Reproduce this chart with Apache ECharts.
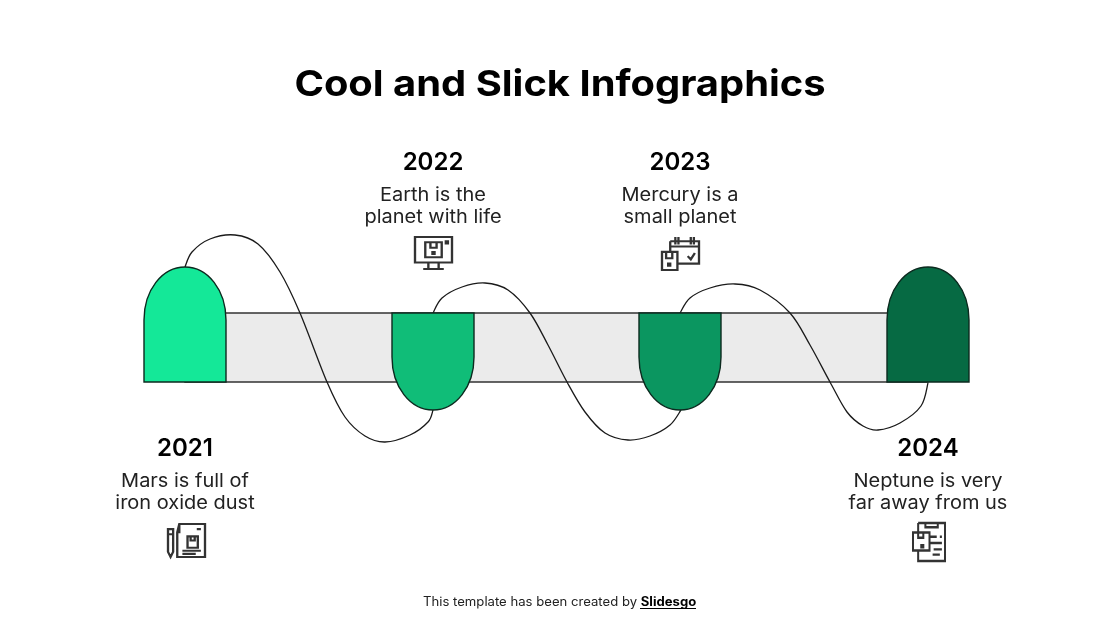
<!DOCTYPE html>
<html>
<head>
<meta charset="utf-8">
<style>
html, body { margin: 0; padding: 0; background: #fff; }
#main { width: 1119px; height: 629px; }
</style>
<script src="https://cdn.jsdelivr.net/npm/echarts@6/dist/echarts.min.js"></script>
</head>
<body>
<div id="main"></div>
<script>
var titleText = 'Cool and Slick Infographics';
var years = ['2021', '2022', '2023', '2024'];
var notes = [
    ['Mars is full of', 'iron oxide dust'],
    ['Earth is the', 'planet with life'],
    ['Mercury is a', 'small planet'],
    ['Neptune is very', 'far away from us']
];
var tabColors = ['#14e898', '#10bd78', '#0b9660', '#066a43'];

// centre of each tab on the band, and the side it grows out to (-1 up, 1 down)
var tabCentres = [185, 433, 680, 928];
var tabSides = [-1, 1, 1, -1];
var tabTips = [267, 410, 410, 267];
var bandFrom = 185, bandTo = 928, bandTop = 313, bandBottom = 382;

// the thin wavy lines
var curve1 = [[185,267],[192,252],[210,239],[235,235],[258,244],[280,272],[300,313],[327,382],[345,417],[365,436],[385,442],[410,435],[428,422],[433,410]];
var curve2 = [[433,313],[442,298],[462,287],[485,283],[508,290],[530,313],[548,345],[567,382],[585,412],[605,433],[628,440],[650,436],[670,425],[681,410]];
var curve3 = [[680,313],[690,298],[710,288],[735,284],[760,290],[790,313],[810,345],[830,382],[847,412],[863,426],[878,430],[900,423],[921,406],[928,383]];
var curves = [curve1, curve2, curve3];

var iconCentres = [[186.5,540.5],[433.5,253],[680.5,253.5],[929,542]];
var iconMonitor = 'path://M1 1H37V25H1ZM11 6H27V20H11ZM16 6V11H22V6M14 25V31M24 25V31M9 31H29M31 5H33V7H31ZM18 15H20V17H18Z';
var iconCalendar = 'path://M9 5H37V26H16M9 5V15M9 10H37M14 1V8M17 1V8M29 1V8M32 1V8M1 15H16V32H1ZM5 15V21H11V15M26 19L29 22L33 16M26 26H33M7 26H9V28H7Z';
var iconPaper = 'path://M1 6H6V28L3.5 33L1 28ZM1 11H6M12 1H37V33H10V9ZM12 1V9H10M20 13H30V24H20ZM23 13V17H27V13M15 27H33M15 30H28M29 6H33';
var iconPhone = 'path://M6 1H32V37H6V27M6 1V10M13 1V5H25V1M1 10H17V27H1ZM6 10V15H11V10M17 14H24M27 14H29M17 20H29M21 26H29M20 31H27M9 22H11V24H9Z';
var icons = [iconPaper, iconMonitor, iconCalendar, iconPhone];
var iconSizes = [[37,33],[37,32],[37,33],[32,38]];

var labelFont = 'Inter, "Noto Sans", sans-serif';
var yearY = [448.5, 163, 163, 448.5];
var noteY = [481, 195, 195, 481];
var textX = [185, 433, 680, 928];

var myChart = echarts.init(document.getElementById('main'));

// smooth path through the read points
function renderCurve(params, api) {
    var pts = curves[api.value(0)].map(function (p) { return api.coord(p); });
    var d = 'M' + pts[0];
    for (var i = 0; i < pts.length - 1; i++) {
        var p0 = pts[Math.max(i - 1, 0)], p1 = pts[i], p2 = pts[i + 1], p3 = pts[Math.min(i + 2, pts.length - 1)];
        d += 'C' + (p1[0] + (p2[0] - p0[0]) / 6) + ',' + (p1[1] + (p2[1] - p0[1]) / 6) +
            ' ' + (p2[0] - (p3[0] - p1[0]) / 6) + ',' + (p2[1] - (p3[1] - p1[1]) / 6) +
            ' ' + p2[0] + ',' + p2[1];
    }
    return {
        type: 'path',
        shape: { pathData: d },
        style: { fill: 'none', stroke: '#1a1a1a', lineWidth: 1.3 }
    };
}

function renderBand(params, api) {
    var a = api.coord([bandFrom, bandTop]);
    var b = api.coord([bandTo, bandBottom]);
    return {
        type: 'rect',
        shape: { x: a[0], y: a[1], width: b[0] - a[0], height: b[1] - a[1] },
        style: { fill: '#ebebeb', stroke: '#333', lineWidth: 1.4 }
    };
}

// a tab is a rectangle on the band with half an ellipse on its far side
function renderTab(params, api) {
    var i = params.dataIndex;
    var cx = api.value(0), tip = api.value(1), side = tabSides[i];
    var base = side < 0 ? bandBottom : bandTop;
    var shoulder = tip - side * 53;
    var k = 0.56;
    var pts = [
        [cx - 41, base], [cx - 41, shoulder],
        [cx - 41, shoulder + side * 53 * k], [cx - 41 * k, tip], [cx, tip],
        [cx + 41 * k, tip], [cx + 41, shoulder + side * 53 * k], [cx + 41, shoulder],
        [cx + 41, base]
    ].map(function (p) { return api.coord(p); });
    var d = 'M' + pts[0] + 'L' + pts[1] + 'C' + pts[2] + ' ' + pts[3] + ' ' + pts[4] +
        'C' + pts[5] + ' ' + pts[6] + ' ' + pts[7] + 'L' + pts[8] + 'Z';
    return {
        type: 'path',
        shape: { pathData: d },
        style: { fill: tabColors[i], stroke: '#0c2a1f', lineWidth: 1.4 }
    };
}

function textEl(pos, text, size, weight, color, stretch) {
    return {
        type: 'text', x: pos[0], y: pos[1], scaleX: stretch,
        style: {
            x: 0, y: 0, text: text, fontSize: size, fontWeight: weight, fill: color,
            textAlign: 'center', textVerticalAlign: 'middle', fontFamily: labelFont
        }
    };
}

function renderText(params, api) {
    var i = params.dataIndex;
    return {
        type: 'group',
        children: [
            textEl(api.coord([textX[i], yearY[i]]), years[i], 24.5, 600, '#000', 0.98),
            textEl(api.coord([textX[i], noteY[i]]), notes[i][0], 18.5, 400, '#222', 1.08),
            textEl(api.coord([textX[i], noteY[i] + 22]), notes[i][1], 18.5, 400, '#222', 1.08)
        ]
    };
}

var iconData = iconCentres.map(function (c, i) {
    return { value: c, symbol: icons[i], symbolSize: iconSizes[i] };
});

var option = {
    animation: false,
    backgroundColor: '#fff',
    grid: { left: 0, right: 0, top: 0, bottom: 0 },
    xAxis: { type: 'value', min: 0, max: 1119, show: false },
    yAxis: { type: 'value', min: 0, max: 629, inverse: true, show: false },
    graphic: [
        {
            type: 'text', x: 560, y: 85, scaleX: 1.108,
            style: {
                text: titleText, textAlign: 'center', textVerticalAlign: 'middle',
                fontFamily: labelFont, fontSize: 36, fontWeight: 700, fill: '#000'
            }
        },
        {
            type: 'text', x: 423, y: 602.5, scaleX: 1.05,
            style: {
                text: '{a|This template has been created by }{b|Slidesgo}',
                textVerticalAlign: 'middle',
                rich: {
                    a: { fontFamily: labelFont, fontSize: 12.5, fill: '#222' },
                    b: { fontFamily: labelFont, fontSize: 12.5, fontWeight: 700, fill: '#000' }
                }
            }
        },
        { type: 'rect', x: 640, y: 608, shape: { width: 56, height: 1 }, style: { fill: '#000' } }
    ],
    series: [
        { type: 'custom', data: [[0]], renderItem: renderBand, silent: true, z: 2 },
        { type: 'custom', data: [[0], [1], [2]], renderItem: renderCurve, silent: true, z: 3 },
        {
            type: 'custom', silent: true, z: 4,
            data: tabCentres.map(function (c, i) { return [c, tabTips[i]]; }),
            renderItem: renderTab
        },
        {
            type: 'custom', silent: true, z: 7,
            data: years.map(function (y, i) { return [textX[i], yearY[i]]; }),
            renderItem: renderText
        },
        {
            type: 'scatter', silent: true, z: 7,
            data: iconData,
            itemStyle: { color: 'none', borderColor: '#000', borderWidth: 2.2 }
        }
    ]
};

myChart.setOption(option);
</script>
</body>
</html>
